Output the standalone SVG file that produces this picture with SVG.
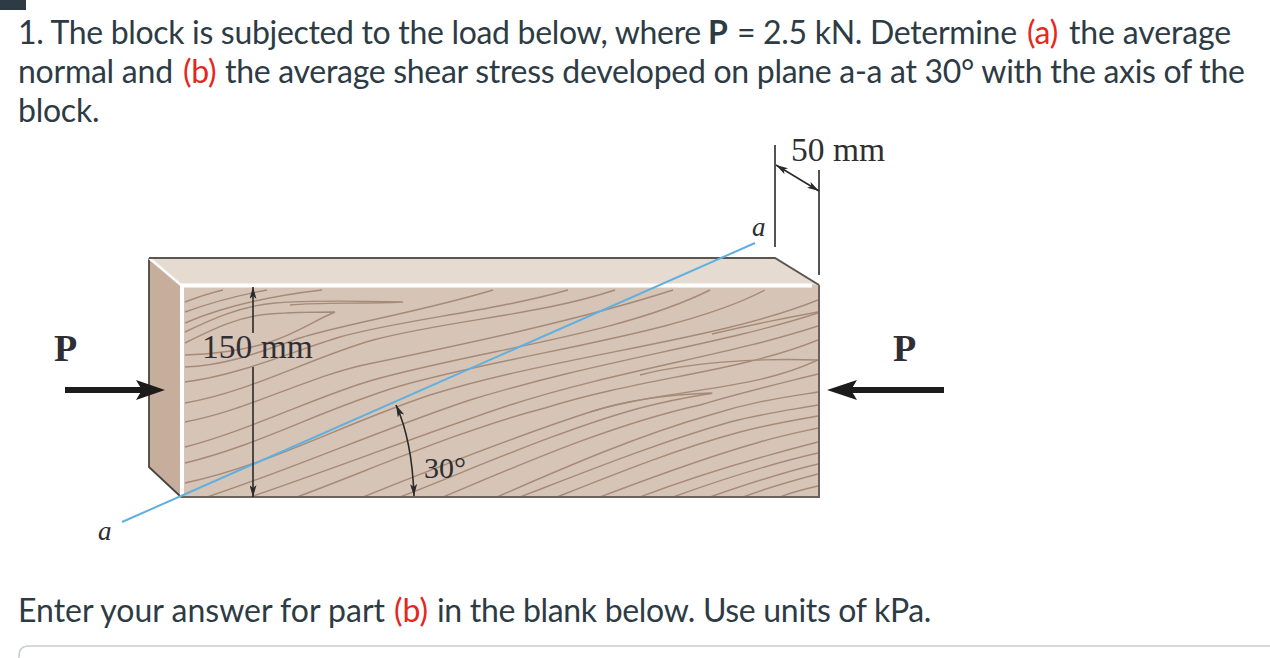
<svg xmlns="http://www.w3.org/2000/svg" width="1270" height="658" viewBox="0 0 1270 658">
<style>
.t{font-family:Lato,"Liberation Sans",sans-serif;font-size:32px;fill:#2d3b45}
.r{fill:#e4281c}
.s{font-family:"Liberation Serif",serif;fill:#2e2e33}
.g{fill:none;stroke:#a58a78;stroke-width:1.4}
.d{stroke:#2a2a2a;stroke-width:1.6;fill:none}
.b{fill:#1c1c1c}
</style>
<defs>
<clipPath id="fc"><rect x="184" y="288" width="634" height="208"/></clipPath>
<marker id="ah" viewBox="0 0 12 7" refX="12" refY="3.5" markerWidth="12" markerHeight="7" orient="auto-start-reverse" markerUnits="userSpaceOnUse"><path d="M0 0L12 3.5L0 7L3 3.5z" fill="#2a2a2a"/></marker>
</defs>
<rect width="1270" height="658" fill="#fff"/>
<rect x="0" y="0" width="26" height="10" fill="#2d3b45"/>
<g id="question">
<text class="t" x="18" y="44" letter-spacing="-0.32">1. The block is subjected to the load below, where <tspan font-weight="700" x="708">P</tspan> <tspan x="737">= 2.5 kN.</tspan> <tspan x="870">Determine</tspan> <tspan class="r" x="1027">(a)</tspan> <tspan x="1069" letter-spacing="-0.14">the average</tspan></text>
<text class="t" x="18" y="83" letter-spacing="-0.25">normal and <tspan class="r" x="183">(b)</tspan> <tspan x="225" letter-spacing="-0.29">the average shear stress developed on plane a-a at 30° with the axis of the</tspan></text>
<text class="t" x="18" y="122" letter-spacing="-0.25">block.</text>
</g>
<g id="block">
<path d="M149 467L149 258L181 285L181 497Z" fill="#c7ae9c"/>
<path d="M181 497L149 467V258" fill="none" stroke="#4a4540" stroke-width="1.8"/>
<path d="M149 258L775 258L819 285L181 285Z" fill="#e5dbd1"/>
<path d="M149 258L181 285" stroke="#fff" stroke-width="2.500" fill="none"/>
<path d="M149 258L775 258L819 285" fill="none" stroke="#5a5550" stroke-width="2"/>
<rect x="181" y="285" width="638" height="212" fill="#d6c4b6"/>
<path d="M182 285V497M180 285.500H812" stroke="#fff" stroke-width="4" fill="none"/>
<path d="M819 285V497H181" fill="none" stroke="#6a625b" stroke-width="2"/>
<g id="grain" class="g" clip-path="url(#fc)">
<path d="M185 302C198 297 210 293 223 290"/>
<path d="M185 312C210 303 240 295 267 290"/>
<path d="M185 323C220 308 270 296 322 290"/>
<path d="M185 332C210 320 240 306 275 303C310 300 360 301 403 302C360 304 320 302 290 305"/>
<path d="M185 343C215 328 240 316 270 314C295 312 315 312 335 312C315 320 300 332 270 342C245 350 215 354 185 355"/>
<path d="M185 367C225 366 260 352 300 338C340 325 420 312 493 290"/>
<path d="M185 382C240 375 290 352 340 337C400 320 490 312 568 290"/>
<path d="M185 403C250 392 310 358 373 340C450 320 540 315 615 290"/>
<path d="M185 422C250 410 310 375 373 363C460 345 580 320 673 290"/>
<path d="M185 447C250 430 320 395 373 380C480 350 620 335 710 290"/>
<path d="M185 463C260 445 320 410 400 386C520 352 680 335 765 290"/>
<path d="M185 483C270 465 340 425 430 395C560 355 720 340 818 300"/>
<path d="M207 497C290 470 380 430 470 400C600 360 720 345 818 313"/>
<path d="M250 497C330 470 420 435 510 405C620 370 730 355 818 326"/>
<path d="M297 497C370 470 460 430 545 408C640 378 740 372 818 340"/>
<path d="M363 497C430 470 510 438 590 412C670 388 750 392 818 360"/>
<path d="M400 497C470 470 560 430 640 408C690 395 720 393 710 393C660 395 620 402 590 412"/>
<path d="M443 497C520 465 610 425 700 405C740 393 770 386 818 374"/>
<path d="M497 497C570 465 640 435 710 415C750 402 780 398 818 392"/>
<path d="M520 497C590 470 660 442 730 422C760 414 790 410 818 405"/>
<path d="M557 497C620 472 680 448 740 432C770 424 795 420 818 416"/>
<path d="M600 497C650 478 710 456 760 442C780 436 800 432 818 428"/>
<path d="M640 497C690 478 740 462 818 442"/>
<path d="M673 497C720 480 770 464 818 453"/>
<path d="M710 497C750 483 785 472 818 464"/>
<path d="M743 497C770 487 795 480 818 474"/>
<path d="M780 497C790 493 805 489 818 486"/>
<path d="M712 334C750 325 785 318 818 312"/>
<path d="M640 375C690 362 760 358 818 360"/>
</g>
</g>
<g id="connectors">
<path d="M122 522L755 243" fill="none" stroke="#5fb0e0" stroke-width="2"/>
<path class="d" d="M253 287V333M253 367V497" marker-end="url(#ah)" marker-start="url(#ah)"/>
<path class="d" d="M396 405Q412 440 414 496" marker-start="url(#ah)" marker-end="url(#ah)"/>
<path class="d" d="M775 145V247M819 170V275"/>
<path class="d" d="M776 165L819 191" marker-start="url(#ah)" marker-end="url(#ah)"/>
<path d="M65 387H142V393H65Z" class="b"/>
<path d="M165 390L136 380L142 390L136 400Z" class="b"/>
<path d="M944 387H850V393H944Z" class="b"/>
<path d="M827 390L857 380L851 390L857 400Z" class="b"/>
</g>
<g id="labels">
<text class="s" x="791" y="161" font-size="33.500">50 mm</text>
<text class="s" x="202" y="358" font-size="33.500">150 mm</text>
<text class="s" x="424" y="478" font-size="30">30°</text>
<text class="s" x="752" y="236" font-size="27" font-style="italic" fill="#555b66">a</text>
<text class="s" x="98" y="540" font-size="27" font-style="italic" fill="#555b66">a</text>
<text class="s" x="54" y="361" font-size="38" font-weight="700" fill="#111">P</text>
<text class="s" x="893" y="361" font-size="38" font-weight="700" fill="#111">P</text>
</g>
<g id="prompt">
<text class="t" x="18" y="622">Enter your answer for part <tspan class="r" x="394">(b)</tspan> <tspan x="437" letter-spacing="-0.32">in the blank below. Use units of kPa.</tspan></text>
<path d="M19 658V656Q19 646 29 646H1270" fill="none" stroke="#c7cdd1" stroke-width="1.500"/>
</g>
</svg>
